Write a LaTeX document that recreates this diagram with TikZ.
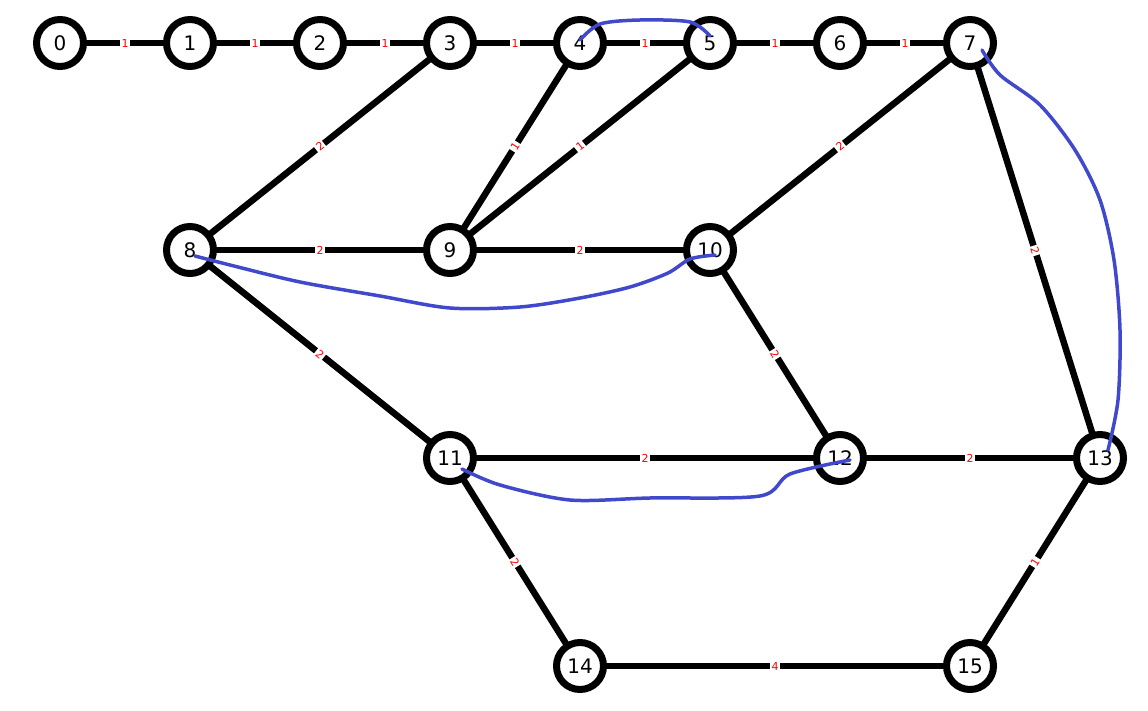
\documentclass[tikz,border=0pt]{standalone}
\usepackage{fontspec}
\setmainfont{DejaVu Sans}
\begin{document}
\begin{tikzpicture}[x=1pt,y=-1pt,
  vert/.style={circle,draw=black,fill=white,line width=7pt,minimum size=47pt,inner sep=0pt,font=\fontsize{20}{24}\selectfont},
  edge/.style={line width=6.5pt},
  wt/.style={fill=white,text=red,inner sep=1.5pt,font=\fontsize{11}{12}\selectfont,sloped},
  path/.style={draw={rgb,255:red,64;green,72;blue,204},line width=3.5pt,line cap=round,line join=round}]
\useasboundingbox (0,0) rectangle (1148,711);
\foreach \n/\x/\y in {0/60/43,1/190/43,2/320/43,3/450/43,4/580/43,5/710/43,6/840/43,7/970/43,8/190/250,9/450/250,10/710/250,11/450/458,12/840/458,13/1100/458,14/580/666,15/970/666}
  \coordinate (c\n) at (\x,\y);
\foreach \a/\b/\w in {0/1/1,1/2/1,2/3/1,3/4/1,4/5/1,5/6/1,6/7/1,3/8/2,4/9/1,5/9/1,7/10/2,7/13/2,8/9/2,9/10/2,8/11/2,10/12/2,11/12/2,12/13/2,11/14/2,13/15/1,14/15/4}
  \draw[edge] (c\a) -- node[wt]{\w} (c\b);
\foreach \n in {0,...,15}
  \node[vert] (v\n) at (c\n) {\n};
\draw[path] plot[smooth] coordinates {(580,40) (600,24) (640,20) (690,22) (710,36)};
\draw[path] plot[smooth] coordinates {(195,256) (230,265) (300,282) (380,296) (450,308) (520,307) (580,298) (630,287) (668,273) (690,259) (715,255)};
\draw[path] plot[smooth] coordinates {(982,50) (1000,75) (1040,105) (1075,150) (1100,200) (1114,260) (1120,330) (1118,400) (1108,450)};
\draw[path] plot[smooth] coordinates {(462,469) (500,485) (570,500) (650,498) (760,496) (790,474) (850,460)};
\end{tikzpicture}
\end{document}
